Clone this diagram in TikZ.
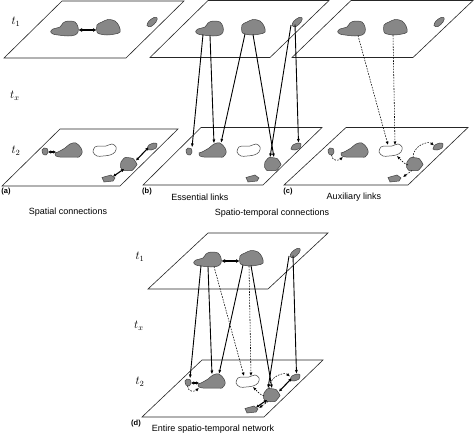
\documentclass[tikz,border=0pt]{standalone}
\usepackage{fontspec}
\setmainfont{Liberation Sans}
\usetikzlibrary{arrows.meta}
\newcommand{\topblobs}{%
 \draw[blob] plot[smooth cycle,tension=0.6] coordinates {(50.7,31.7) (53,29) (60,27) (63,23) (68,21) (75,22) (78,27) (78,32) (75,35) (68,36) (58,35) (53,34)};
 \draw[blob] plot[smooth cycle,tension=0.6] coordinates {(97,32) (97,25) (102,22) (108,19.5) (115,21) (119,26) (120,32) (115,34) (107,35) (100,34)};
 \draw[blob] plot[smooth cycle,tension=0.6] coordinates {(147,25.5) (149,21) (154,17.5) (157,18) (156,22) (151,26.5)};
}
\newcommand{\botblobs}{%
 \draw[blob] plot[smooth cycle,tension=0.5] coordinates {(42,150) (44,148) (47,148.5) (48,152) (46,155) (43,154)};
 \draw[blob] plot[smooth cycle,tension=0.6] coordinates {(55,153) (58,152) (65,148) (70,144) (76,143) (81,148) (82,153) (79,157) (75,157) (68,157) (60,157) (56,156)};
 \draw[wblob] plot[smooth cycle,tension=0.6] coordinates {(93,152) (95,147) (100,146) (106,146) (112,144) (116,147) (115,152) (110,155) (103,156) (97,156)};
 \draw[blob] plot[smooth cycle,tension=0.25] coordinates {(121,162) (125,157.5) (133,158.5) (137,164.5) (132,170.5) (123,170.5) (120.5,167)};
 \draw[blob] plot[smooth cycle,tension=0.5] coordinates {(147,149) (149,145) (154,143) (157,144) (156,148) (151,150)};
 \draw[blob] (102,177.5) -- (111,175) -- (115,178) -- (113,181) -- (104,182) -- cycle;
}
\newcommand{\pts}[1]{%
 \coordinate (#1a1r) at (78.5,30); \coordinate (#1a2l) at (96.5,30);
 \coordinate (#1e1s) at (58,34.5); \coordinate (#1e1t) at (47,147.5);
 \coordinate (#1e2s) at (65,35.5); \coordinate (#1e2t) at (69,143.5);
 \coordinate (#1e3s) at (100,34); \coordinate (#1e3t) at (76,143);
 \coordinate (#1e4s) at (108,34.5); \coordinate (#1e4t) at (129,157.5);
 \coordinate (#1e5s) at (146,25); \coordinate (#1e5t) at (125,157.5);
 \coordinate (#1e6s) at (150,24.5); \coordinate (#1e6t) at (153.5,143);
 \coordinate (#1d1s) at (71,35.5); \coordinate (#1d1t) at (101,145);
 \coordinate (#1d2s) at (106,35); \coordinate (#1d2t) at (108,145);
 \coordinate (#1b1) at (48,152); \coordinate (#1b2) at (56,152);
 \coordinate (#1b4r) at (136,160.5); \coordinate (#1b5) at (148.5,147.5);
 \coordinate (#1b4b) at (124,169); \coordinate (#1b6) at (113,176.5);
 \coordinate (#1c1) at (44.5,155); \coordinate (#1c2) at (56,157);
 \coordinate (#1c3) at (121,165); \coordinate (#1c4) at (110,156);
 \coordinate (#1c5) at (126,157.5); \coordinate (#1c6) at (147,145.5);
 \coordinate (#1c7) at (125,170.5); \coordinate (#1c8) at (116,177);
}
\begin{document}
\begin{tikzpicture}[x=1pt,y=-1pt,
  plane/.style={draw=black!85, line width=0.6pt},
  blob/.style={fill=black!47, draw=black!75, line width=0.5pt},
  wblob/.style={fill=white, draw=black!75, line width=0.5pt},
  sarr/.style={-{Latex[length=4pt,width=3pt]}, line width=0.9pt},
  darr/.style={-{Latex[length=3.5pt,width=3pt]}, line width=0.55pt, dash pattern=on 1.6pt off 1.2pt},
  sp/.style={{Latex[length=3pt,width=3.4pt]}-{Latex[length=3pt,width=3.4pt]}, line width=1.1pt},
  spt/.style={{Latex[length=3.5pt,width=4pt]}-{Latex[length=3.5pt,width=4pt]}, line width=1.4pt},
  lab/.style={font=\fontsize{9}{11}\selectfont, inner sep=0pt},
  tlab/.style={font=\fontsize{12}{14}\selectfont, inner sep=0pt},
  plab/.style={font=\bfseries\fontsize{7.5}{9}\selectfont, inner sep=0pt}]
\useasboundingbox (0,0) rectangle (474,434);
% planes
\draw[plane] (4,58) -- (126,58) -- (184,1) -- (62,1) -- cycle;
\draw[plane] (150,57.5) -- (270,57.5) -- (329,0.5) -- (208,0.5) -- cycle;
\draw[plane] (292,57.5) -- (413,57.5) -- (473,0.5) -- (351,0.5) -- cycle;
\draw[plane] (2,186) -- (120,186) -- (178,129) -- (60,129) -- cycle;
\draw[plane] (143,185) -- (263,185) -- (322,127.5) -- (201,127.5) -- cycle;
\draw[plane] (284,185) -- (408,185) -- (468,127.5) -- (346,127.5) -- cycle;
\draw[plane] (148,289) -- (268,289) -- (328,233) -- (208,233) -- cycle;
\draw[plane] (142,417) -- (264,417) -- (323,360) -- (202,360) -- cycle;
% panel a
\begin{scope}
 \topblobs \botblobs \pts{a}
\end{scope}
\draw[spt] (aa1r) -- (aa2l);
\draw[sp] (ab1) -- (ab2);
\draw[sp] (ab4r) -- (ab5);
\draw[sp] (ab4b) -- (ab6);
% panel b
\begin{scope}[shift={(145,0)}]
 \topblobs \pts{b}
\end{scope}
\begin{scope}[shift={(144,0)}]
 \botblobs
\end{scope}
\foreach \k in {1,...,6} {\draw[sarr] (be\k s) -- (be\k t);}
% panel c
\begin{scope}[shift={(287,0)}]
 \topblobs \pts{c}
\end{scope}
\begin{scope}[shift={(286,0)}]
 \botblobs
\end{scope}
\draw[darr] (cd1s) -- (cd1t);
\draw[darr] (cd2s) -- (cd2t);
\draw[darr] (cc1) .. controls +(0.5,6) and +(-5,4) .. (cc2);
\draw[darr] (cc3) .. controls +(-4,-1) and +(3,3) .. (cc4);
\draw[darr] (cc5) .. controls +(0,-12) and +(-6,-5) .. (cc6);
\draw[darr] (cc7) -- (cc8);
% panel d
\begin{scope}[shift={(143,231)}]
 \topblobs \botblobs \pts{d}
\end{scope}
\draw[spt] (da1r) -- (da2l);
\draw[sp] (db1) -- (db2);
\draw[sp] (db4r) -- (db5);
\draw[sp] (db4b) -- (db6);
\foreach \k in {1,...,6} {\draw[sarr] (de\k s) -- (de\k t);}
\draw[darr] (dd1s) -- (dd1t);
\draw[darr] (dd2s) -- (dd2t);
\draw[darr] (dc1) .. controls +(0.5,6) and +(-5,4) .. (dc2);
\draw[darr] (dc3) .. controls +(-4,-1) and +(3,3) .. (dc4);
\draw[darr] (dc5) .. controls +(0,-12) and +(-6,-5) .. (dc6);
\draw[darr] (dc7) -- (dc8);
% labels
\node[tlab] (t1a) at (16,22) {$t_1$};
\node[tlab] (txa) at (15,96) {$t_x$};
\node[tlab] (t2a) at (16,151) {$t_2$};
\node[tlab] (t1d) at (140,257) {$t_1$};
\node[tlab] (txd) at (139,326) {$t_x$};
\node[tlab] (t2d) at (140,382) {$t_2$};
\node[plab] (pa) at (6,192) {(a)};
\node[plab] (pb) at (147,192) {(b)};
\node[plab] (pc) at (288,192) {(c)};
\node[plab] (pd) at (136,424) {(d)};
\node[lab] (la) at (68,212) {Spatial connections};
\node[lab] (lb) at (200,197) {Essential links};
\node[lab] (lc) at (354,197) {Auxiliary links};
\node[lab] (lbc) at (272,213) {Spatio-temporal connections};
\node[lab] (ld) at (213,429) {Entire spatio-temporal network};
\end{tikzpicture}
\end{document}
